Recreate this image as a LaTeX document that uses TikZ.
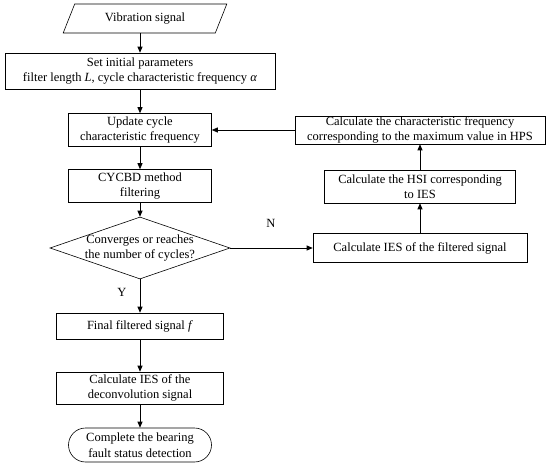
\documentclass[tikz,border=0pt]{standalone}
\usepackage{fontspec}
\setmainfont{Liberation Serif}
\usetikzlibrary{shapes.geometric,shapes.misc,arrows.meta}
\begin{document}
\begin{tikzpicture}[x=1pt,y=-1pt,
  every node/.style={font=\fontsize{12.5}{15.5}\selectfont,align=center,inner sep=0pt},
  box/.style={draw,line width=0.6pt,minimum width=#1},
  iobox/.style={draw,line width=0.6pt,trapezium,trapezium left angle=60,trapezium right angle=120,trapezium stretches=true,minimum width=164pt,minimum height=29pt},
  decision/.style={draw,line width=0.6pt,diamond,minimum width=180pt,minimum height=62pt},
  endbox/.style={draw,line width=0.6pt,rounded rectangle,minimum width=143pt,minimum height=34pt},
  flow/.style={line width=0.8pt,-{Triangle[length=6pt,width=5pt]}}]
  \useasboundingbox (0,0) rectangle (550,466);
  \node[iobox] (sig) at (145,18.5) {Vibration signal};
  \node[box=270pt,minimum height=36pt] (init) at (140,71) {Set initial parameters\\filter length \textit{L}, cycle characteristic frequency \textit{α}};
  \node[box=143pt,minimum height=33pt] (upd) at (140,130) {Update cycle\\characteristic frequency};
  \node[box=143pt,minimum height=33pt] (cyc) at (140,186) {CYCBD method\\filtering};
  \node[decision,label=center:{Converges or reaches\\the number of cycles?}] (dec) at (140,248) {};
  \node[box=167pt,minimum height=26pt] (fin) at (140,326) {Final filtered signal \textit{f}};
  \node[box=167pt,minimum height=32pt] (ies) at (140,388) {Calculate IES of the\\deconvolution signal};
  \node[endbox] (done) at (140,445) {Complete the bearing\\fault status detection};
  \node[box=214pt,minimum height=29pt] (iesf) at (420,248) {Calculate IES of the filtered signal};
  \node[box=191pt,minimum height=33pt] (hsi) at (420,186.5) {Calculate the HSI corresponding\\to IES};
  \node[box=250pt,minimum height=28pt] (hps) at (420,130) {Calculate the characteristic frequency\\corresponding to the maximum value in HPS};
  \node (n) at (271,223) {N};
  \node (y) at (122,292) {Y};
  \draw[flow] (sig.south -| init.north) -- (init.north);
  \draw[flow] (init) -- (upd);
  \draw[flow] (upd) -- (cyc);
  \draw[flow] (cyc) -- (dec);
  \draw[flow] (dec) -- (fin);
  \draw[flow] (fin) -- (ies);
  \draw[flow] (ies) -- (done);
  \draw[flow] (dec) -- (iesf);
  \draw[flow] (iesf) -- (hsi);
  \draw[flow] (hsi) -- (hps);
  \draw[flow] (hps) -- (upd);
\end{tikzpicture}
\end{document}
